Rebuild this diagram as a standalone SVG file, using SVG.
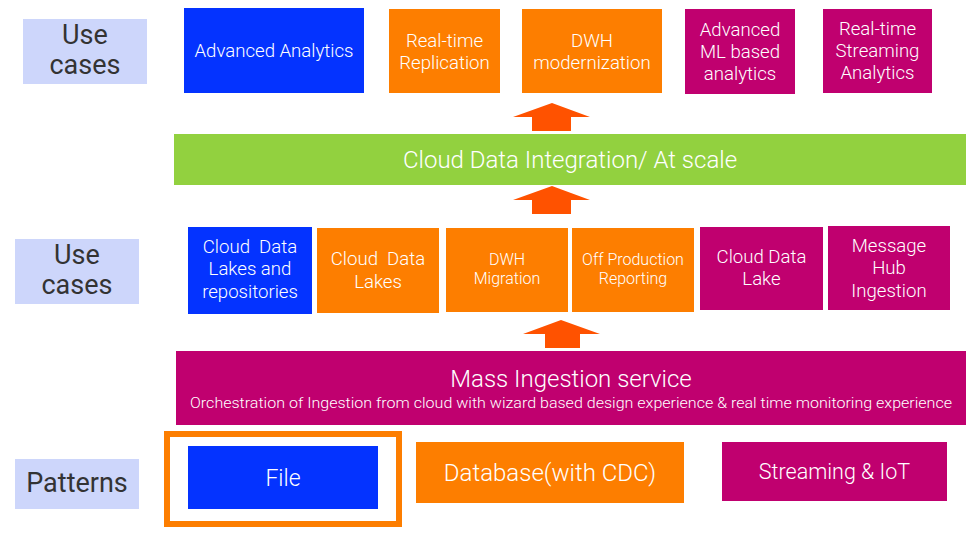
<svg xmlns="http://www.w3.org/2000/svg" width="979" height="536" viewBox="0 0 979 536">
<style>
.lab{fill:#cdd6fb}
.labt{font-family:Roboto,"Liberation Sans",sans-serif;font-weight:400;fill:#333;text-anchor:middle;font-size:27px}
.blue{fill:#0433ff}
.orange{fill:#fd7e00}
.mag{fill:#c0006f}
.green{fill:#92d13f}
.t{font-family:Roboto,"Liberation Sans",sans-serif;font-weight:300;fill:#fff;text-anchor:middle;font-size:18.6px}
.s14{font-size:16px}
.s22{font-size:24px}
.arrow{fill:#ff5200}
</style>
<rect width="979" height="536" fill="#fff"/>
<g id="label-usecases-1">
<rect class="lab" x="23" y="19" width="124" height="65"/>
<text class="labt" x="85" y="44">Use</text>
<text class="labt" x="85" y="74">cases</text>
</g>
<g id="advanced-analytics">
<rect class="blue" x="184" y="8" width="180" height="85"/>
<text class="t" x="274" y="57">Advanced Analytics</text>
</g>
<g id="realtime-replication">
<rect class="orange" x="389" y="9" width="111" height="84"/>
<text class="t" x="444.5" y="47">Real-time</text>
<text class="t" x="444.5" y="69">Replication</text>
</g>
<g id="dwh-modernization">
<rect class="orange" x="522" y="9" width="140" height="84"/>
<text class="t" x="592" y="47">DWH</text>
<text class="t" x="592" y="69">modernization</text>
</g>
<g id="advanced-ml">
<rect class="mag" x="685" y="9" width="110" height="85"/>
<text class="t" x="740" y="36">Advanced</text>
<text class="t" x="740" y="58">ML based</text>
<text class="t" x="740" y="80">analytics</text>
</g>
<g id="realtime-streaming">
<rect class="mag" x="823" y="9" width="109" height="84"/>
<text class="t" x="877.5" y="35">Real-time</text>
<text class="t" x="877.5" y="57">Streaming</text>
<text class="t" x="877.5" y="79">Analytics</text>
</g>
<g id="cloud-data-integration">
<rect class="green" x="174" y="134" width="792" height="51"/>
<text class="t s22" x="570" y="168">Cloud Data Integration/ At scale</text>
</g>
<g id="label-usecases-2">
<rect class="lab" x="15" y="239" width="124" height="65"/>
<text class="labt" x="77" y="264">Use</text>
<text class="labt" x="77" y="294">cases</text>
</g>
<g id="cloud-data-lakes-repos">
<rect class="blue" x="188" y="227" width="124" height="87"/>
<text class="t" x="250" y="253" xml:space="preserve">Cloud  Data</text>
<text class="t" x="250" y="275">Lakes and</text>
<text class="t" x="250" y="298">repositories</text>
</g>
<g id="cloud-data-lakes">
<rect class="orange" x="317" y="228" width="122" height="85"/>
<text class="t" x="378" y="265" xml:space="preserve">Cloud  Data</text>
<text class="t" x="378" y="288">Lakes</text>
</g>
<g id="dwh-migration">
<rect class="orange" x="446" y="228" width="122" height="84"/>
<text class="t s14" x="507" y="265">DWH</text>
<text class="t s14" x="507" y="284">Migration</text>
</g>
<g id="off-production">
<rect class="orange" x="572" y="228" width="122" height="84"/>
<text class="t s14" x="633" y="265">Off Production</text>
<text class="t s14" x="633" y="284">Reporting</text>
</g>
<g id="cloud-data-lake">
<rect class="mag" x="700" y="227" width="123" height="83"/>
<text class="t" x="761.5" y="263">Cloud Data</text>
<text class="t" x="761.5" y="285">Lake</text>
</g>
<g id="message-hub">
<rect class="mag" x="828" y="226" width="122" height="84"/>
<text class="t" x="889" y="252">Message</text>
<text class="t" x="889" y="274">Hub</text>
<text class="t" x="889" y="297">Ingestion</text>
</g>
<g id="mass-ingestion">
<rect class="mag" x="176" y="351" width="790" height="74"/>
<text class="t s22" x="571" y="387">Mass Ingestion service</text>
<text class="t" style="font-size:14.5px" x="571" y="408" textLength="762" lengthAdjust="spacingAndGlyphs">Orchestration of Ingestion from cloud with wizard based design experience &amp; real time monitoring experience</text>
</g>
<g id="label-patterns">
<rect class="lab" x="15" y="459" width="124" height="50"/>
<text class="labt" x="77" y="492">Patterns</text>
</g>
<g id="file">
<rect x="167" y="434" width="232" height="90" fill="none" stroke="#fd7e00" stroke-width="6"/>
<rect class="blue" x="188" y="446" width="190" height="63"/>
<text class="t" style="font-size:23px" x="283" y="486">File</text>
</g>
<g id="database">
<rect class="orange" x="416" y="442" width="268" height="61"/>
<text class="t s22" x="550" y="481">Database(with CDC)</text>
</g>
<g id="streaming-iot">
<rect class="mag" x="722" y="442" width="225" height="59"/>
<text class="t" style="font-size:21.5px" x="834.5" y="479">Streaming &amp; IoT</text>
</g>
<g id="connectors">
<polygon class="arrow" points="552,103 590,117 571,117 571,131 532,131 532,117 513,117"/>
<polygon class="arrow" points="552,186 590,200 571,200 571,214 532,214 532,200 513,200"/>
<polygon class="arrow" points="561,320 600,334 580,334 580,348 545,348 545,334 523,334"/>
</g>
</svg>
